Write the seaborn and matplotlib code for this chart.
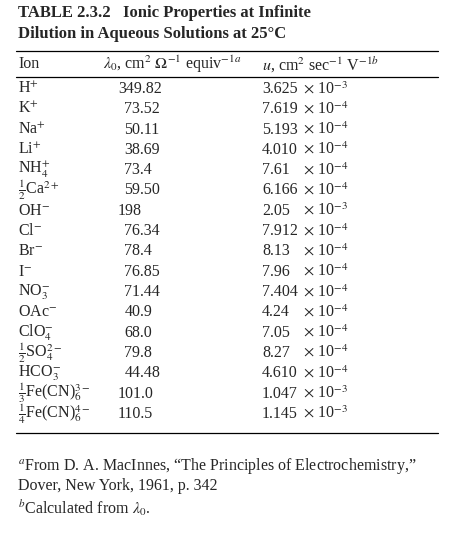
import matplotlib
matplotlib.use("Agg")
import matplotlib.pyplot as plt
import seaborn as sns

sns.set_theme(style="white")
plt.rcParams['font.family'] = ['Liberation Serif', 'DejaVu Serif']
plt.rcParams['mathtext.fontset'] = 'stix'

ions = [r"H$^{+}$", r"K$^{+}$", r"Na$^{+}$", r"Li$^{+}$", r"NH$_4^{+}$",
        r"$\frac{1}{2}$Ca$^{2+}$", r"OH$^{-}$", r"Cl$^{-}$", r"Br$^{-}$", r"I$^{-}$",
        r"NO$_3^{-}$", r"OAc$^{-}$", r"ClO$_4^{-}$", r"$\frac{1}{2}$SO$_4^{2-}$",
        r"HCO$_3^{-}$", r"$\frac{1}{3}$Fe(CN)$_6^{3-}$", r"$\frac{1}{4}$Fe(CN)$_6^{4-}$"]
lam = ["349.82", "73.52", "50.11", "38.69", "73.4", "59.50", "198", "76.34", "78.4",
       "76.85", "71.44", "40.9", "68.0", "79.8", "44.48", "101.0", "110.5"]
u_mant = ["3.625", "7.619", "5.193", "4.010", "7.61", "6.166", "2.05", "7.912", "8.13",
          "7.96", "7.404", "4.24", "7.05", "8.27", "4.610", "1.047", "1.145"]
u_exp = [-3, -4, -4, -4, -4, -4, -3, -4, -4, -4, -4, -4, -4, -4, -4, -3, -3]

fig = plt.figure(figsize=(4.56, 5.37), dpi=100)
ax = fig.add_axes([0, 0, 1, 1])
ax.set_xlim(0, 456); ax.set_ylim(537, 0); ax.axis('off')

fs = 11.5
ax.text(18, 13, "TABLE 2.3.2   Ionic Properties at Infinite", fontsize=12, weight='bold', va='center')
ax.text(18, 34, "Dilution in Aqueous Solutions at 25°C", fontsize=12, weight='bold', va='center')
for y in (51, 77, 433):
    ax.plot([16, 438], [y, y], color='black', lw=0.9)
ax.text(18, 64, "Ion", fontsize=fs, va='center')
ax.text(103, 64, r"$\lambda_0$, cm$^2$ $\Omega^{-1}$ equiv$^{-1a}$", fontsize=fs, va='center')
ax.text(262, 64, r"$u$, cm$^2$ sec$^{-1}$ V$^{-1b}$", fontsize=fs, va='center')

y0, dy = 89, 20.3
for i, (ion, l, m, e) in enumerate(zip(ions, lam, u_mant, u_exp)):
    y = y0 + i * dy
    ax.text(18, y, ion, fontsize=fs, va='center')
    ip = len(l.split('.')[0])
    ax.text(118 + (3 - ip) * 6.5, y, l, fontsize=fs, va='center')
    ax.text(262, y, m, fontsize=fs, va='center')
    ax.text(303, y, r"$\times$ 10$^{%d}$" % e, fontsize=fs, va='center')

ax.text(18, 466, r"$^a$From D. A. MacInnes, “The Principles of Electrochemistry,”", fontsize=fs, va='center')
ax.text(18, 486, "Dover, New York, 1961, p. 342", fontsize=fs, va='center')
ax.text(18, 508, r"$^b$Calculated from $\lambda_0$.", fontsize=fs, va='center')

fig.savefig("out.png", dpi=100, facecolor='white')
